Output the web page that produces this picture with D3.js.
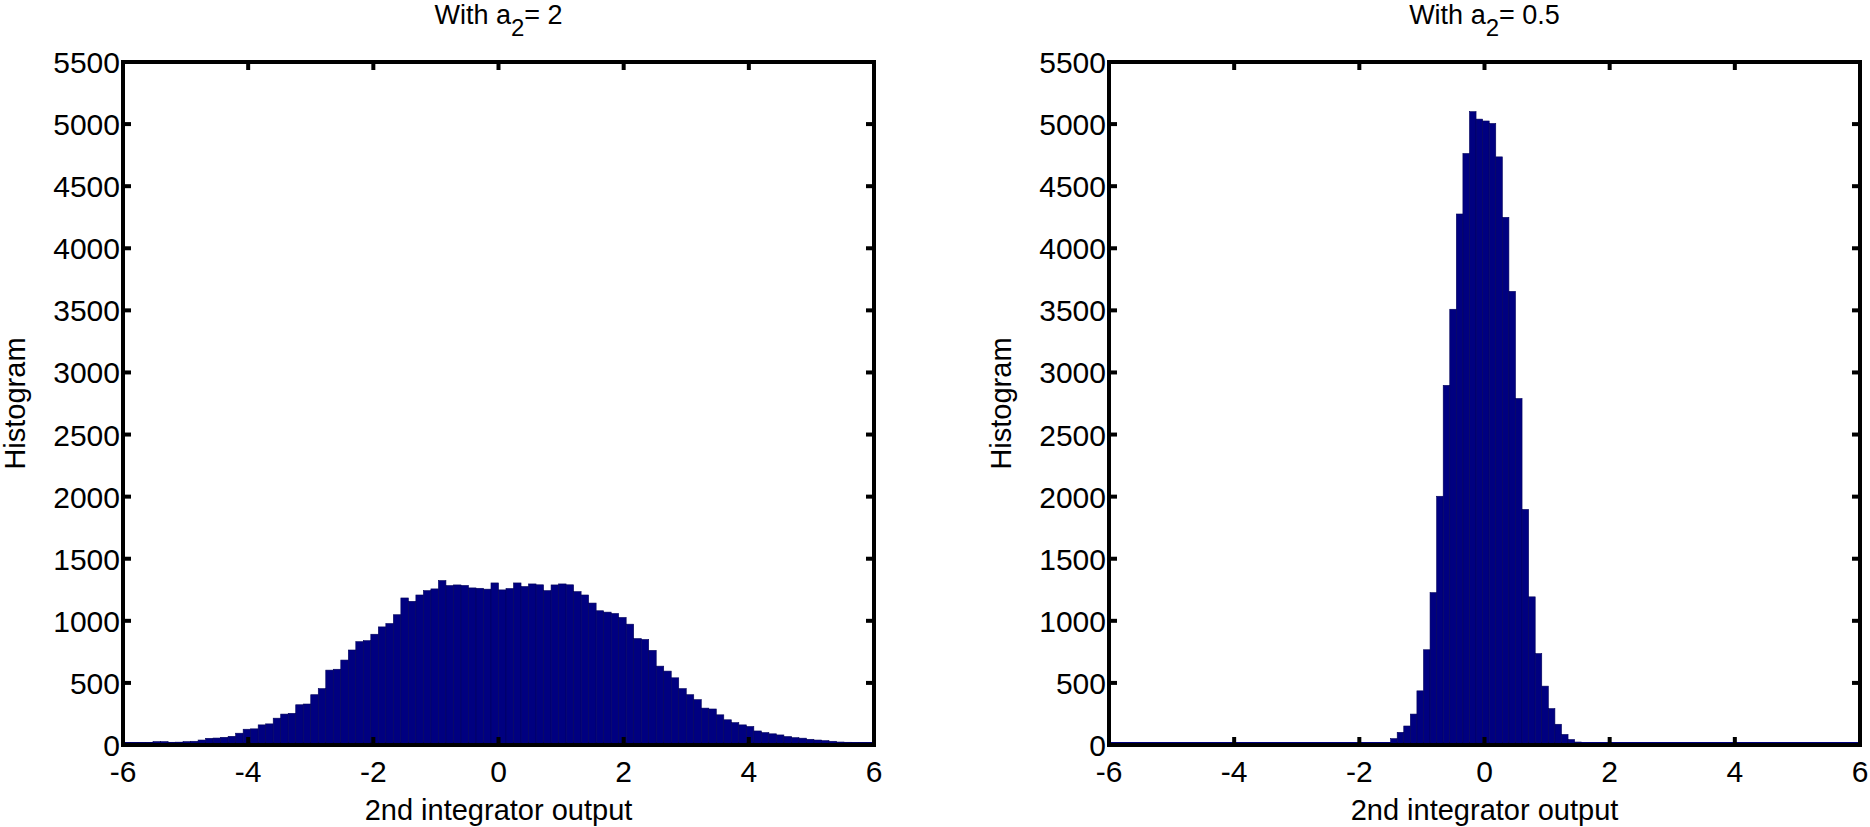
<!DOCTYPE html>
<html>
<head>
<meta charset="utf-8">
<script src="https://cdn.jsdelivr.net/npm/d3@7"></script>
<style>
body { margin: 0; background: #fff; }
text { font-family: "Liberation Sans", Arial, sans-serif; fill: #000; }
</style>
</head>
<body>
<svg id="chart" width="1870" height="827"></svg>
<script>
// left histogram: 100 bins over [-6, 6]
var leftStart = -6, leftWidth = 0.12;
var leftCounts = [19,19,20,21,27,27,22,23,27,30,40,54,56,62,70,95,127,130,162,170,
  216,249,255,324,330,405,454,603,610,684,765,832,840,892,951,978,1049,1184,1157,1208,
  1243,1257,1324,1284,1289,1285,1265,1262,1255,1305,1249,1260,1305,1276,1297,1290,1243,1289,1297,1290,
  1235,1208,1143,1081,1070,1059,1027,973,857,850,762,635,595,541,454,405,365,297,290,243,
  203,180,162,149,113,100,90,81,68,59,55,46,40,35,30,24,22,19,18,17];

// right histogram: narrow peak
var rightStart = -1.5, rightWidth = 0.105;
var rightCounts = [51,102,153,249,436,767,1227,2003,2896,3509,4276,4763,5100,5040,5025,5005,
  4736,4249,3653,2790,1897,1193,736,474,293,167,85,44,24,10];

var xTicks = [-6, -4, -2, 0, 2, 4, 6];
var yTicks = d3.range(0, 5501, 500);

var panels = [
  { left: 123, title: "2", start: leftStart, width: leftWidth, counts: leftCounts },
  { left: 1109, title: "0.5", start: rightStart, width: rightWidth, counts: rightCounts }
];

var svg = d3.select("#chart");
var plotTop = 62, plotBottom = 745, plotW = 751;
var fs = 30;

panels.forEach(function(p) {
  var x = d3.scaleLinear().domain([-6, 6]).range([p.left, p.left + plotW]);
  var y = d3.scaleLinear().domain([0, 5500]).range([plotBottom, plotTop]);
  var g = svg.append("g");

  // zero-height baseline across full range
  g.append("line")
    .attr("x1", x(-6)).attr("x2", x(6))
    .attr("y1", y(0) - 1.5).attr("y2", y(0) - 1.5)
    .attr("stroke", "#000080").attr("stroke-width", 3);

  g.selectAll("rect.bar").data(p.counts).enter().append("rect")
    .attr("class", "bar")
    .attr("x", function(d, i) { return x(p.start + i * p.width); })
    .attr("width", x(p.width) - x(0))
    .attr("y", function(d) { return y(d); })
    .attr("height", function(d) { return y(0) - y(d); })
    .attr("fill", "#000080")
    .attr("stroke", "#00005a").attr("stroke-width", 0.6);

  // box
  g.append("rect")
    .attr("x", p.left).attr("y", plotTop).attr("width", plotW).attr("height", plotBottom - plotTop)
    .attr("fill", "none").attr("stroke", "#000").attr("stroke-width", 4);

  // inward ticks on all sides
  xTicks.forEach(function(t) {
    g.append("line").attr("x1", x(t)).attr("x2", x(t)).attr("y1", plotBottom).attr("y2", plotBottom - 8)
      .attr("stroke", "#000").attr("stroke-width", 4);
    g.append("line").attr("x1", x(t)).attr("x2", x(t)).attr("y1", plotTop).attr("y2", plotTop + 8)
      .attr("stroke", "#000").attr("stroke-width", 4);
    g.append("text").attr("x", x(t)).attr("y", plotBottom + 37)
      .attr("text-anchor", "middle").attr("font-size", fs).text(t);
  });
  yTicks.forEach(function(t) {
    g.append("line").attr("x1", p.left).attr("x2", p.left + 8).attr("y1", y(t)).attr("y2", y(t))
      .attr("stroke", "#000").attr("stroke-width", 4);
    g.append("line").attr("x1", p.left + plotW).attr("x2", p.left + plotW - 8).attr("y1", y(t)).attr("y2", y(t))
      .attr("stroke", "#000").attr("stroke-width", 4);
    g.append("text").attr("x", p.left - 3).attr("y", y(t) + 11)
      .attr("text-anchor", "end").attr("font-size", fs).text(t);
  });

  var title = g.append("text").attr("x", p.left + plotW / 2).attr("y", 24)
    .attr("text-anchor", "middle").attr("font-size", 27);
  title.append("tspan").text("With a");
  title.append("tspan").attr("dy", 12).attr("font-size", 24).text("2");
  title.append("tspan").attr("dy", -12).text("= " + p.title);

  g.append("text").attr("x", p.left + plotW / 2).attr("y", 820)
    .attr("text-anchor", "middle").attr("font-size", 29).text("2nd integrator output");

  g.append("text")
    .attr("transform", "translate(" + (p.left - 98) + "," + ((plotTop + plotBottom) / 2) + ") rotate(-90)")
    .attr("text-anchor", "middle").attr("font-size", 29).text("Histogram");
});
</script>
</body>
</html>
